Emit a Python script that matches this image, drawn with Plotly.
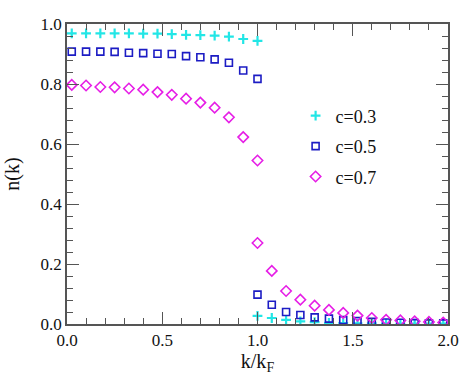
import plotly.graph_objects as go

k_below = [0.025, 0.1, 0.175, 0.25, 0.325, 0.4, 0.475, 0.55, 0.625, 0.7, 0.775, 0.85, 0.925, 1.0]
k_above = [1.0, 1.075, 1.15, 1.225, 1.3, 1.375, 1.45, 1.525, 1.6, 1.675, 1.75, 1.825, 1.9, 1.975]
k = k_below + k_above

n_c03 = [0.969, 0.969, 0.969, 0.969, 0.969, 0.968, 0.968, 0.966, 0.964, 0.963, 0.961, 0.958, 0.950, 0.944,
         0.027, 0.020, 0.014, 0.009, 0.006, 0.004, 0.003, 0.002, 0.002, 0.001, 0.001, 0.001, 0.001, 0.001]
n_c05 = [0.908, 0.908, 0.908, 0.907, 0.904, 0.903, 0.901, 0.900, 0.893, 0.889, 0.882, 0.871, 0.845, 0.817,
         0.098, 0.064, 0.040, 0.030, 0.022, 0.018, 0.013, 0.010, 0.007, 0.005, 0.004, 0.003, 0.002, 0.002]
n_c07 = [0.797, 0.795, 0.790, 0.789, 0.785, 0.781, 0.773, 0.764, 0.751, 0.738, 0.721, 0.689, 0.623, 0.545,
         0.270, 0.177, 0.110, 0.081, 0.061, 0.047, 0.037, 0.028, 0.020, 0.014, 0.012, 0.009, 0.007, 0.005]

labels = ["c=0.3", "c=0.5", "c=0.7"]
colors = ["#22e6e6", "#1c1cc4", "#e61ee6"]
symbols = ["cross-thin-open", "square-open", "diamond-open"]
sizes = [7, 7, 8]

FONT = "Liberation Serif"
fig = go.Figure()
for i, (ys, lab) in enumerate(zip([n_c03, n_c05, n_c07], labels)):
    fig.add_trace(go.Scatter(
        x=k, y=ys, mode="markers", name=lab, legendgroup=lab,
        marker=dict(symbol=symbols[i], size=sizes[i], color=colors[i],
                    line=dict(width=2.2 if i == 0 else 1.6, color=colors[i])),
    ))

axis_common = dict(
    showline=True, mirror="allticks", linecolor="#555555", linewidth=1.5,
    ticks="inside", ticklen=12, tickwidth=1.2, tickcolor="#555555",
    showgrid=False, zeroline=False,
    tickfont=dict(family=FONT, size=17, color="#111111"),
)

fig.update_xaxes(range=[0, 2], dtick=0.5, tickformat=".1f",
                 minor=dict(dtick=0.1, ticks="inside", ticklen=6, tickcolor="#555555", tickwidth=1.2),
                 title=dict(text="k/k<sub>F</sub>", font=dict(family=FONT, size=20, color="#111111"), standoff=4),
                 **axis_common)
fig.update_yaxes(range=[0, 1], dtick=0.2, tickformat=".1f",
                 minor=dict(dtick=0.04, ticks="inside", ticklen=6, tickcolor="#555555", tickwidth=1.2),
                 title=dict(text="n(k)", font=dict(family=FONT, size=20, color="#111111"), standoff=16),
                 **axis_common)

fig.update_layout(
    width=474, height=384,
    margin=dict(l=67, r=26, t=24, b=60),
    plot_bgcolor="white", paper_bgcolor="white",
    showlegend=True,
    legend=dict(x=0.60, y=0.755, xanchor="left", yanchor="top",
                bgcolor="rgba(0,0,0,0)", traceorder="grouped", tracegroupgap=4,
                font=dict(family=FONT, size=18, color="#111111")),
)

fig.write_html("out.html", config={"displayModeBar": False},
               post_script="document.body.style.margin='0';")
